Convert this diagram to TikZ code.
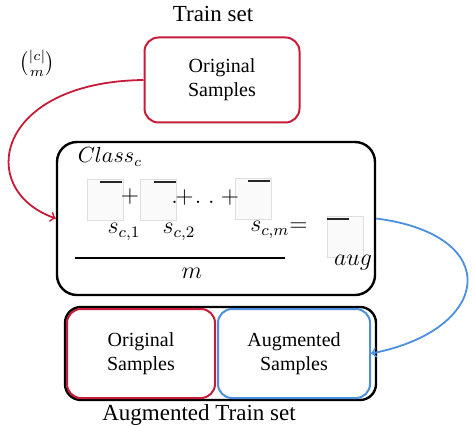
\documentclass[tikz,border=0pt]{standalone}
\usepackage{amsmath}
\usepackage{fontspec}
\setmainfont{Liberation Serif}
\definecolor{trainred}{RGB}{198,28,58}
\definecolor{augblue}{RGB}{74,144,222}
\begin{document}
\begin{tikzpicture}[x=0.5pt,y=-0.5pt,
    sample/.style={draw=gray!25,fill=gray!4,minimum width=18pt,minimum height=20.5pt,inner sep=0pt},
    bar/.style={line width=1pt,black!85},
    setbox/.style={rounded corners=7pt,line width=1pt,align=center,minimum height=44.5pt},
    setname/.style={font=\fontsize{11.5}{13}\selectfont},
    term/.style={font=\fontsize{11.5}{13}\selectfont}]
    \useasboundingbox (0,0) rectangle (474,426);
    \node[setname] (title) at (213,14) {Train set};
    \node (binom) at (37,63) {$\binom{|c|}{m}$};
    \node[setbox,draw=trainred,minimum width=77.5pt,minimum height=42.5pt] (orig) at (222,80) {Original\\Samples};
    % class box
    \node[draw=black,rounded corners=10pt,line width=1.2pt,minimum width=159pt,minimum height=76.5pt] (cls) at (216,218.5) {};
    \node[font=\fontsize{10.5}{12}\selectfont] (clsname) at (110,157) {$Class_c$};
    \node[sample] (s1) at (105,200) {};
    \node[sample] (s2) at (158.5,200) {};
    \node[sample] (sm) at (253,199) {};
    \node[sample] (aug) at (345,236.5) {};
    \foreach \s in {s1,s2,sm}
      \draw[bar] ([shift={(-11.5pt,-1.5pt)}]\s.north east) -- ++(22,0);
    \draw[bar] ([shift={(0pt,-1.5pt)}]aug.north west) -- ++(22,0);
    \node[term] (plus1) at (130,197) {$+$};
    \node[term] (dots) at (193,198) {$.\!\!+\!.\;.$};
    \node[term] (plus2) at (230,198) {$+$};
    \node[term] (lab1) at (124,232) {$s_{c,1}$};
    \node[term] (lab2) at (179,232) {$s_{c,2}$};
    \node[term] (labm) at (279,230) {$s_{c,m}{=}$};
    \node[term] (labaug) at (353,263) {$aug$};
    \draw[line width=1pt] (75,258) -- (285,258);
    \node[term] (denom) at (192,273) {$m$};
    % augmented train set
    \node[draw=black,rounded corners=8pt,line width=1.2pt,minimum width=155.5pt,minimum height=46.5pt] (augset) at (220.5,353.5) {};
    \node[setbox,draw=trainred,minimum width=74pt] (orig2) at (141,353.5) {Original\\Samples};
    \node[setbox,draw=augblue,minimum width=76pt] (augs) at (294,353.5) {Augmented\\Samples};
    \node[setname] (caption) at (199,415) {Augmented Train set};
    % arrows
    \draw[->,trainred,line width=0.9pt] (orig.west) .. controls (-5,82) and (-25,190) .. (cls.west);
    \draw[->,augblue,line width=0.9pt] (cls.east) .. controls (505,235) and (492,330) .. (augs.east);
\end{tikzpicture}
\end{document}
